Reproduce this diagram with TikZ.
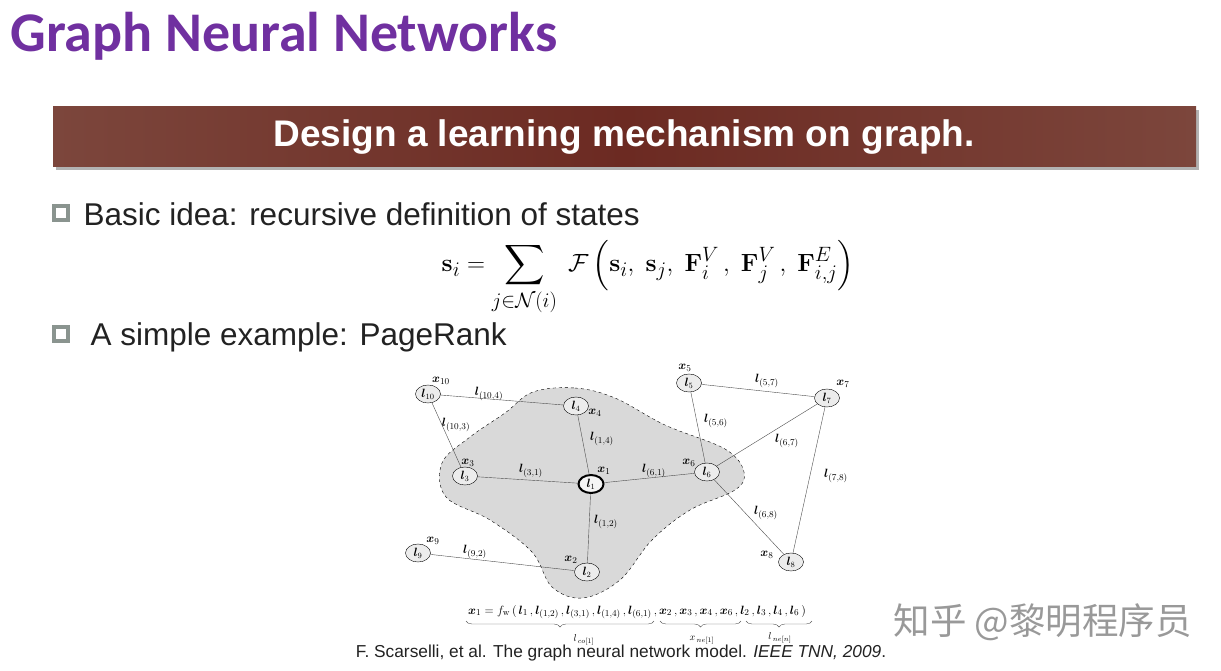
\documentclass[tikz,border=0pt]{standalone}
\usepackage{amsmath,amssymb,bm}
\usepackage[no-math]{fontspec}
\setmainfont{Liberation Sans}
\newfontfamily\titlefont{Carlito}
\newfontfamily\cjkfont{Noto Sans CJK SC}
\usetikzlibrary{shapes.geometric,decorations.pathreplacing}
\definecolor{gnnpurple}{HTML}{7030A0}
\definecolor{bannerdark}{HTML}{6C2A22}
\definecolor{bannerlight}{HTML}{7C463C}
\definecolor{bulgray}{HTML}{8A948F}
\definecolor{textdark}{HTML}{222222}
\definecolor{blobgray}{HTML}{D9D9D9}

\begin{document}
\begin{tikzpicture}[x=1pt, y=-1pt,
  state/.style={ellipse, draw, thin, fill=gray!15, minimum width=25pt, minimum height=18pt,
                inner sep=0pt, font=\fontsize{12}{12}\selectfont},
  lab/.style={inner sep=0pt, font=\fontsize{12.5}{13}\selectfont},
  bul/.style={draw=bulgray, line width=4pt, fill=white, minimum size=14pt, inner sep=0pt},
  brc/.style={decorate, decoration={brace, mirror, amplitude=6pt}, thin, gray!70!black}]
\useasboundingbox (0,0) rectangle (1221,670);

% heading and banner
\node[anchor=west, text=gnnpurple, font=\titlefont\bfseries\fontsize{56}{60}\selectfont] (title) at (7,36) {Graph Neural Networks};
\fill[gray!60] (56,110) rectangle (1199,170);
\shade[left color=bannerlight, right color=bannerlight, middle color=bannerdark] (53,106) rectangle (1196,166);
\node[text=white, font=\bfseries\fontsize{37}{40}\selectfont] (banner) at (624,137) {Design a learning mechanism on graph.};

% bullets
\node[bul] (b1) at (61,213) {};
\node[anchor=base west, text=textdark, font=\fontsize{31.5}{34}\selectfont] (t1) at (80,225) {Basic idea: recursive definition of states};
\node[inner sep=0pt, text=black, font=\fontsize{28}{30}\selectfont] (eq) at (648,278)
  {$\mathbf{s}_i = \displaystyle\sum_{j\in\mathcal{N}(i)}\; \mathcal{F}\,\Bigl(\mathbf{s}_i,\;\mathbf{s}_j,\;\mathbf{F}_i^V\,,\;\mathbf{F}_j^V\,,\;\mathbf{F}_{i,j}^E\Bigr)$};
\node[bul] (b2) at (61,334) {};
\node[anchor=base west, text=textdark, font=\fontsize{31.5}{34}\selectfont] (t2) at (87,345) {A simple example: PageRank};

% shaded neighbourhood of node 1
\draw[dashed, fill=blobgray] plot[smooth cycle, tension=0.6] coordinates {
  (533,392) (575,388) (615,398) (665,425) (725,449) (744,472) (735,490) (690,510)
  (652,540) (620,580) (583,598) (552,587) (532,552) (490,520) (446,497) (442,463)
  (470,437) (505,413)};

% states
\node[state] (l10) at (428,394) {$\bm{l}_{10}$};
\node[state] (l4) at (576,406) {$\bm{l}_4$};
\node[state] (l3) at (465,476) {$\bm{l}_3$};
\node[state, line width=2pt, fill=gray!8] (l1) at (591,484) {$\bm{l}_1$};
\node[state] (l6) at (707,472) {$\bm{l}_6$};
\node[state] (l5) at (689,383) {$\bm{l}_5$};
\node[state] (l7) at (827,398) {$\bm{l}_7$};
\node[state] (l8) at (791,562) {$\bm{l}_8$};
\node[state] (l9) at (418,553) {$\bm{l}_9$};
\node[state] (l2) at (587,572) {$\bm{l}_2$};

\foreach \a/\b in {l10/l4, l10/l3, l4/l1, l3/l1, l1/l6, l1/l2, l9/l2, l5/l6, l5/l7, l6/l7, l7/l8, l6/l8}
  \draw[thin, gray!60!black] (\a) -- (\b);

% state labels
\node[lab] (x10) at (441,381) {$\bm{x}_{10}$};
\node[lab] (x4) at (595,413) {$\bm{x}_4$};
\node[lab] (x3) at (468,463) {$\bm{x}_3$};
\node[lab] (x1) at (604,471) {$\bm{x}_1$};
\node[lab] (x6) at (689,463) {$\bm{x}_6$};
\node[lab] (x5) at (685,368) {$\bm{x}_5$};
\node[lab] (x7) at (843,384) {$\bm{x}_7$};
\node[lab] (x8) at (767,555) {$\bm{x}_8$};
\node[lab] (x9) at (433,541) {$\bm{x}_9$};
\node[lab] (x2) at (571,560) {$\bm{x}_2$};

% edge labels
\node[lab] (e104) at (489,394) {$\bm{l}_{(10,4)}$};
\node[lab] (e103) at (456,425) {$\bm{l}_{(10,3)}$};
\node[lab] (e14) at (602,439) {$\bm{l}_{(1,4)}$};
\node[lab] (e31) at (531,471) {$\bm{l}_{(3,1)}$};
\node[lab] (e61) at (654,471) {$\bm{l}_{(6,1)}$};
\node[lab] (e12) at (606,522) {$\bm{l}_{(1,2)}$};
\node[lab] (e92) at (475,552) {$\bm{l}_{(9,2)}$};
\node[lab] (e56) at (716,421) {$\bm{l}_{(5,6)}$};
\node[lab] (e57) at (767,381) {$\bm{l}_{(5,7)}$};
\node[lab] (e67) at (787,441) {$\bm{l}_{(6,7)}$};
\node[lab] (e78) at (836,476) {$\bm{l}_{(7,8)}$};
\node[lab] (e68) at (766,513) {$\bm{l}_{(6,8)}$};

% transition function of node 1
\node[inner sep=0pt, font=\fontsize{13.2}{14}\selectfont] (fw) at (637,612)
  {$\bm{x}_1 = f_{\mathrm{w}}\,(\,\bm{l}_1\,,\bm{l}_{(1,2)}\,,\bm{l}_{(3,1)}\,,\bm{l}_{(1,4)}\,,\bm{l}_{(6,1)}\,,\bm{x}_2\,,\bm{x}_3\,,\bm{x}_4\,,\bm{x}_6\,,\bm{l}_2\,,\bm{l}_3\,,\bm{l}_4\,,\bm{l}_6\,)$};
\coordinate (c1) at (466,621); \coordinate (c2) at (654,621);
\coordinate (c3) at (660,621); \coordinate (c4) at (741,621);
\coordinate (c5) at (746,621); \coordinate (c6) at (812,621);
\draw[brc] (c1) -- (c2);
\draw[brc] (c3) -- (c4);
\draw[brc] (c5) -- (c6);
\node[lab, font=\fontsize{10}{10}\selectfont] (lco) at (584,640) {$l_{\,co[1]}$};
\node[lab, font=\fontsize{10}{10}\selectfont] (xne) at (702,640) {$x_{\,ne[1]}$};
\node[lab, font=\fontsize{10}{10}\selectfont] (lne) at (780,638) {$l_{\,ne[n]}$};

% reference and watermark
\node[text=textdark, font=\fontsize{17.3}{19}\selectfont] (ref) at (621,653)
  {F. Scarselli, et al. The graph neural network model. \textit{IEEE TNN, 2009}.};
\node[anchor=west, text=gray!80, font=\cjkfont\fontsize{36.5}{38}\selectfont] (wm) at (890,622) {知乎 @黎明程序员};
\end{tikzpicture}
\end{document}
